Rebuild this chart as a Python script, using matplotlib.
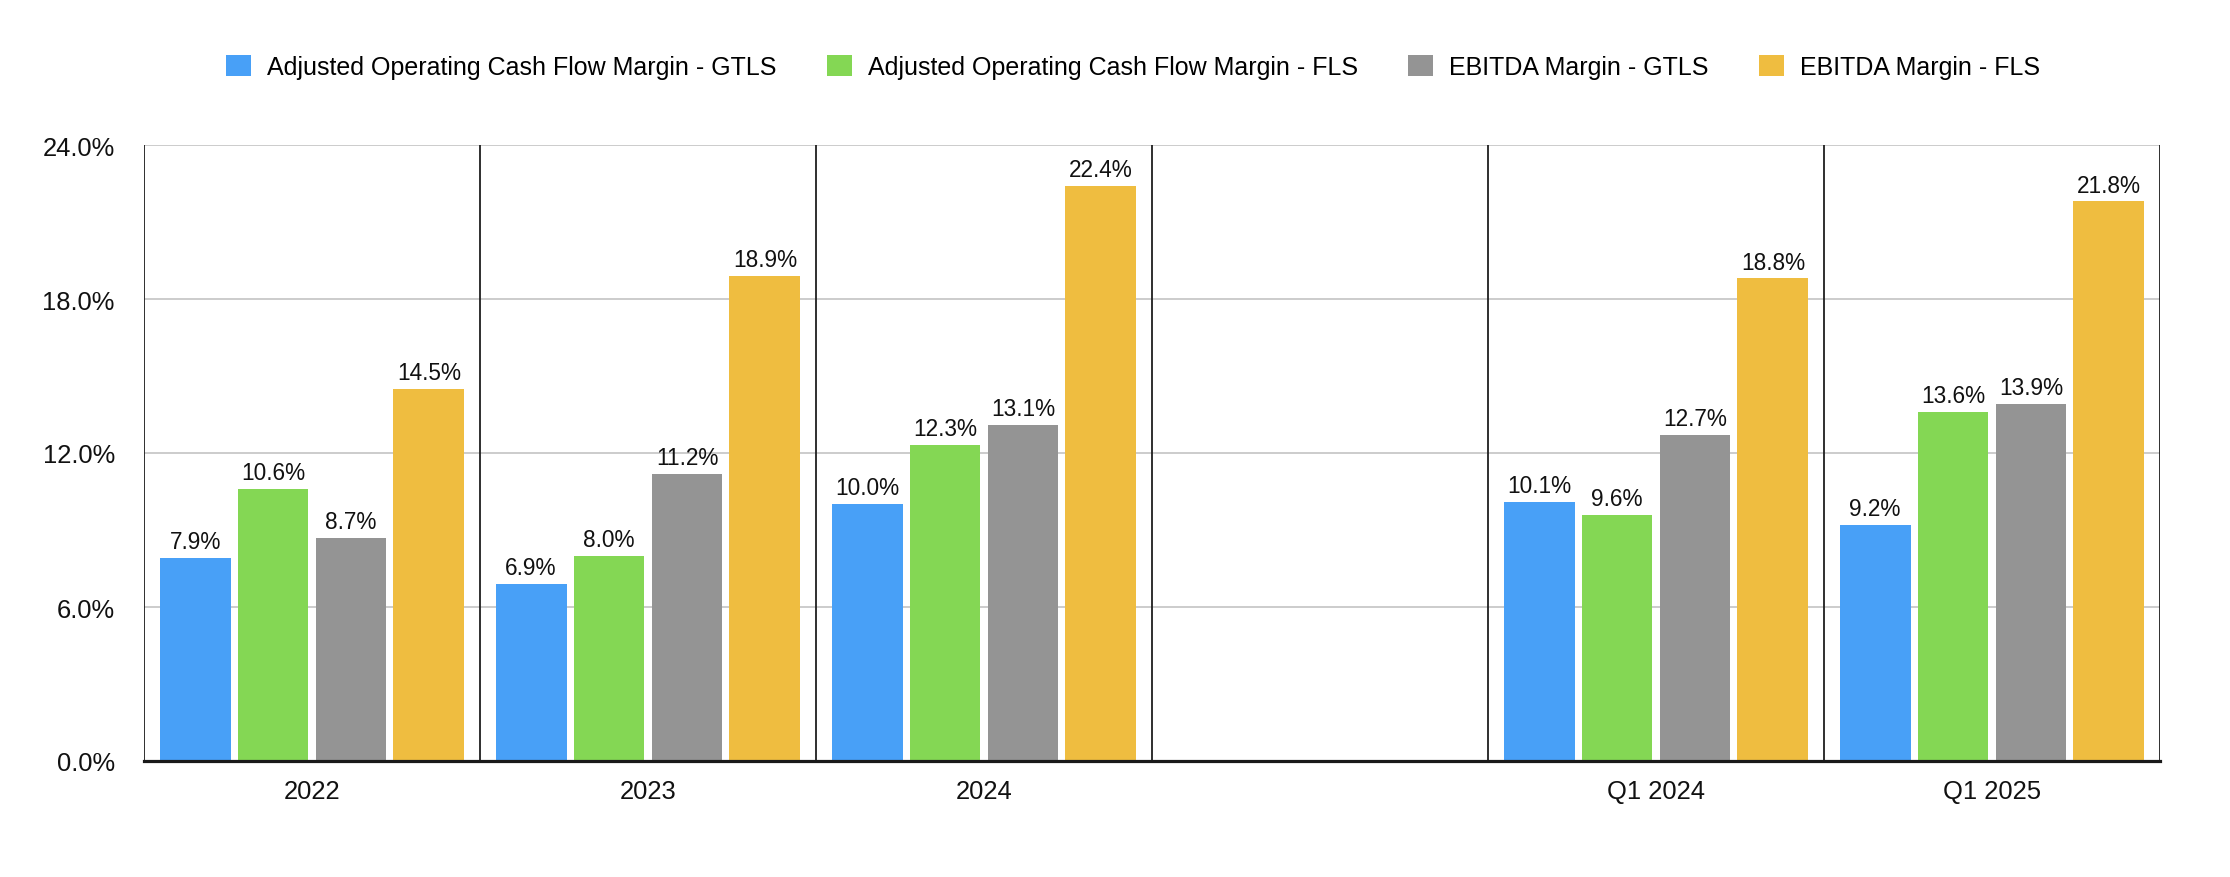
import matplotlib
matplotlib.use("Agg")
import matplotlib.pyplot as plt
import numpy as np
from matplotlib.ticker import FuncFormatter

categories = ["2022", "2023", "2024", "", "Q1 2024", "Q1 2025"]
series_names = [
    "Adjusted Operating Cash Flow Margin - GTLS",
    "Adjusted Operating Cash Flow Margin - FLS",
    "EBITDA Margin - GTLS",
    "EBITDA Margin - FLS",
]
aocf_gtls = [7.9, 6.9, 10.0, np.nan, 10.1, 9.2]
aocf_fls = [10.6, 8.0, 12.3, np.nan, 9.6, 13.6]
ebitda_gtls = [8.7, 11.2, 13.1, np.nan, 12.7, 13.9]
ebitda_fls = [14.5, 18.9, 22.4, np.nan, 18.8, 21.8]
y_ticks = [0, 6, 12, 18, 24]

colors = ["#48A0F7", "#84D754", "#949494", "#EFBD40"]

plt.rcParams['font.family'] = ['Liberation Sans', 'DejaVu Sans']

fig = plt.figure(figsize=(22.3, 8.78), dpi=100)
W, H = 2230, 878
ax = fig.add_axes([144 / W, (H - 762) / H, (2160 - 144) / W, (762 - 146) / H])

x = np.arange(len(categories))
all_series = [aocf_gtls, aocf_fls, ebitda_gtls, ebitda_fls]
step = 0.232
width = 0.211
offsets = [(-1.5 + k) * step for k in range(4)]

for k, (vals, name, col) in enumerate(zip(all_series, series_names, colors)):
    ax.bar(x + offsets[k], vals, width, color=col, label=name, zorder=3)
    for xi, v in zip(x + offsets[k], vals):
        if np.isnan(v):
            continue
        ax.annotate(f"{v:.1f}%", (xi, v), xytext=(0, 3.5), textcoords="offset points",
                    ha="center", va="bottom", fontsize=16.3, color="#111111", zorder=4)

ax.set_xlim(-0.5, len(categories) - 0.5)
ax.set_ylim(0, 24)
ax.set_yticks(y_ticks)
ax.yaxis.set_major_formatter(FuncFormatter(lambda v, p: f"{v:.1f}%"))
ax.set_xticks(x)
ax.set_xticklabels(categories)
ax.tick_params(axis="both", length=0, labelsize=18.4, colors="#111111")
ax.tick_params(axis="y", pad=21)
ax.tick_params(axis="x", pad=13)

ax.grid(axis="y", color="#C4C4C4", linewidth=1.2, zorder=0)
ax.set_axisbelow(True)

for s in ["top", "left", "right"]:
    ax.spines[s].set_visible(False)
ax.spines["bottom"].set_linewidth(2.3)
ax.spines["bottom"].set_color("#1a1a1a")
ax.spines["bottom"].set_zorder(5)

for b in np.arange(len(categories) + 1) - 0.5:
    ax.axvline(b, color="#1f1f1f", linewidth=1.3, zorder=4)

fig.legend(loc="center", bbox_to_anchor=(1133 / W, 1 - 68 / H), ncol=4, frameon=False,
           fontsize=18, handlelength=1.0, handleheight=0.95, handletextpad=0.65,
           columnspacing=2.0)

fig.savefig("out.png", dpi=100, facecolor="white")
